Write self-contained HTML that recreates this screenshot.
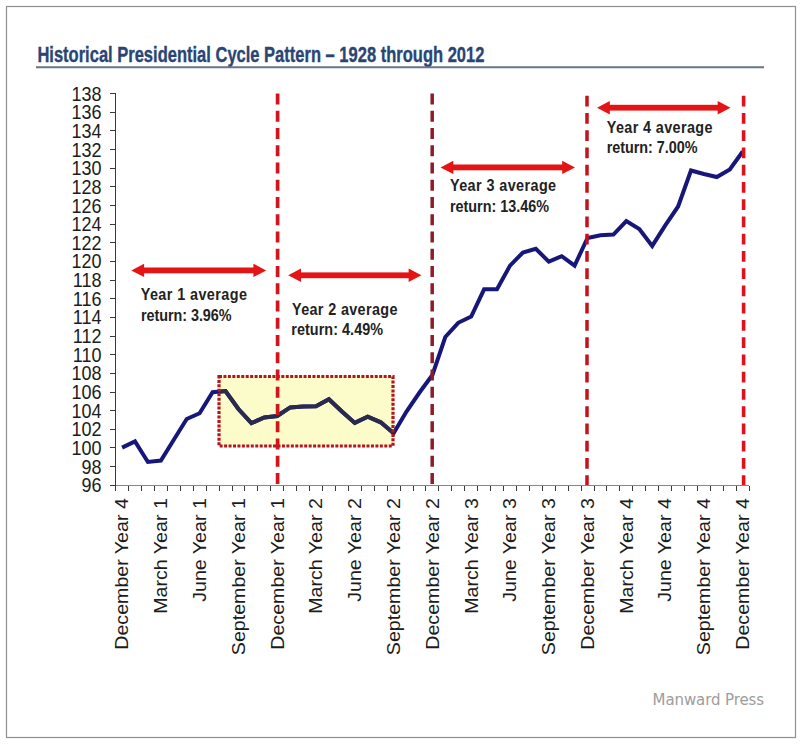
<!DOCTYPE html><html><head><meta charset="utf-8"><title>Historical Presidential Cycle Pattern</title>
<style>html,body{margin:0;padding:0;background:#fff;}svg{display:block;}text{font-family:"Liberation Sans",Arial,sans-serif;}</style></head><body>
<svg width="800" height="745" viewBox="0 0 800 745">
<rect x="0" y="0" width="800" height="745" fill="#fff"/>
<rect x="6.5" y="6.5" width="789" height="731" fill="none" stroke="#909090" stroke-width="1.2"/>
<text x="37.4" y="62.4" font-size="21.3" font-weight="bold" fill="#2a4574" stroke="#2a4574" stroke-width="0.35" textLength="447" lengthAdjust="spacingAndGlyphs">Historical Presidential Cycle Pattern – 1928 through 2012</text>
<line x1="36" y1="67.3" x2="764" y2="67.3" stroke="#647591" stroke-width="2"/>
<g stroke="#3a3a3a" stroke-width="1" shape-rendering="crispEdges">
<line x1="115.5" y1="93.6" x2="115.5" y2="491"/>
<line x1="110" y1="485.5" x2="749" y2="485.5" stroke="#858585"/>
<line x1="110" y1="93.6" x2="115.5" y2="93.6"/>
<line x1="110" y1="112.2" x2="115.5" y2="112.2"/>
<line x1="110" y1="130.9" x2="115.5" y2="130.9"/>
<line x1="110" y1="149.5" x2="115.5" y2="149.5"/>
<line x1="110" y1="168.2" x2="115.5" y2="168.2"/>
<line x1="110" y1="186.8" x2="115.5" y2="186.8"/>
<line x1="110" y1="205.5" x2="115.5" y2="205.5"/>
<line x1="110" y1="224.1" x2="115.5" y2="224.1"/>
<line x1="110" y1="242.8" x2="115.5" y2="242.8"/>
<line x1="110" y1="261.4" x2="115.5" y2="261.4"/>
<line x1="110" y1="280.1" x2="115.5" y2="280.1"/>
<line x1="110" y1="298.7" x2="115.5" y2="298.7"/>
<line x1="110" y1="317.4" x2="115.5" y2="317.4"/>
<line x1="110" y1="336.0" x2="115.5" y2="336.0"/>
<line x1="110" y1="354.7" x2="115.5" y2="354.7"/>
<line x1="110" y1="373.3" x2="115.5" y2="373.3"/>
<line x1="110" y1="392.0" x2="115.5" y2="392.0"/>
<line x1="110" y1="410.6" x2="115.5" y2="410.6"/>
<line x1="110" y1="429.3" x2="115.5" y2="429.3"/>
<line x1="110" y1="447.9" x2="115.5" y2="447.9"/>
<line x1="110" y1="466.6" x2="115.5" y2="466.6"/>
<line x1="110" y1="485.2" x2="115.5" y2="485.2"/>
<line x1="115.6" y1="485.5" x2="115.6" y2="491"/>
<line x1="128.5" y1="485.5" x2="128.5" y2="491"/>
<line x1="141.5" y1="485.5" x2="141.5" y2="491"/>
<line x1="154.4" y1="485.5" x2="154.4" y2="491"/>
<line x1="167.3" y1="485.5" x2="167.3" y2="491"/>
<line x1="180.2" y1="485.5" x2="180.2" y2="491"/>
<line x1="193.2" y1="485.5" x2="193.2" y2="491"/>
<line x1="206.1" y1="485.5" x2="206.1" y2="491"/>
<line x1="219.0" y1="485.5" x2="219.0" y2="491"/>
<line x1="232.0" y1="485.5" x2="232.0" y2="491"/>
<line x1="244.9" y1="485.5" x2="244.9" y2="491"/>
<line x1="257.8" y1="485.5" x2="257.8" y2="491"/>
<line x1="270.8" y1="485.5" x2="270.8" y2="491"/>
<line x1="283.7" y1="485.5" x2="283.7" y2="491"/>
<line x1="296.6" y1="485.5" x2="296.6" y2="491"/>
<line x1="309.5" y1="485.5" x2="309.5" y2="491"/>
<line x1="322.5" y1="485.5" x2="322.5" y2="491"/>
<line x1="335.4" y1="485.5" x2="335.4" y2="491"/>
<line x1="348.3" y1="485.5" x2="348.3" y2="491"/>
<line x1="361.3" y1="485.5" x2="361.3" y2="491"/>
<line x1="374.2" y1="485.5" x2="374.2" y2="491"/>
<line x1="387.1" y1="485.5" x2="387.1" y2="491"/>
<line x1="400.1" y1="485.5" x2="400.1" y2="491"/>
<line x1="413.0" y1="485.5" x2="413.0" y2="491"/>
<line x1="425.9" y1="485.5" x2="425.9" y2="491"/>
<line x1="438.9" y1="485.5" x2="438.9" y2="491"/>
<line x1="451.8" y1="485.5" x2="451.8" y2="491"/>
<line x1="464.7" y1="485.5" x2="464.7" y2="491"/>
<line x1="477.6" y1="485.5" x2="477.6" y2="491"/>
<line x1="490.6" y1="485.5" x2="490.6" y2="491"/>
<line x1="503.5" y1="485.5" x2="503.5" y2="491"/>
<line x1="516.4" y1="485.5" x2="516.4" y2="491"/>
<line x1="529.4" y1="485.5" x2="529.4" y2="491"/>
<line x1="542.3" y1="485.5" x2="542.3" y2="491"/>
<line x1="555.2" y1="485.5" x2="555.2" y2="491"/>
<line x1="568.1" y1="485.5" x2="568.1" y2="491"/>
<line x1="581.1" y1="485.5" x2="581.1" y2="491"/>
<line x1="594.0" y1="485.5" x2="594.0" y2="491"/>
<line x1="606.9" y1="485.5" x2="606.9" y2="491"/>
<line x1="619.9" y1="485.5" x2="619.9" y2="491"/>
<line x1="632.8" y1="485.5" x2="632.8" y2="491"/>
<line x1="645.7" y1="485.5" x2="645.7" y2="491"/>
<line x1="658.7" y1="485.5" x2="658.7" y2="491"/>
<line x1="671.6" y1="485.5" x2="671.6" y2="491"/>
<line x1="684.5" y1="485.5" x2="684.5" y2="491"/>
<line x1="697.5" y1="485.5" x2="697.5" y2="491"/>
<line x1="710.4" y1="485.5" x2="710.4" y2="491"/>
<line x1="723.3" y1="485.5" x2="723.3" y2="491"/>
<line x1="736.2" y1="485.5" x2="736.2" y2="491"/>
<line x1="749.2" y1="485.5" x2="749.2" y2="491"/>
</g>
<g font-size="18" fill="#1c1c1c" text-anchor="end">
<text transform="translate(101.5 100.6) scale(1 1.1)">138</text>
<text transform="translate(101.5 119.2) scale(1 1.1)">136</text>
<text transform="translate(101.5 137.9) scale(1 1.1)">134</text>
<text transform="translate(101.5 156.5) scale(1 1.1)">132</text>
<text transform="translate(101.5 175.2) scale(1 1.1)">130</text>
<text transform="translate(101.5 193.8) scale(1 1.1)">128</text>
<text transform="translate(101.5 212.5) scale(1 1.1)">126</text>
<text transform="translate(101.5 231.1) scale(1 1.1)">124</text>
<text transform="translate(101.5 249.8) scale(1 1.1)">122</text>
<text transform="translate(101.5 268.4) scale(1 1.1)">120</text>
<text transform="translate(101.5 287.1) scale(1 1.1)">118</text>
<text transform="translate(101.5 305.7) scale(1 1.1)">116</text>
<text transform="translate(101.5 324.4) scale(1 1.1)">114</text>
<text transform="translate(101.5 343.0) scale(1 1.1)">112</text>
<text transform="translate(101.5 361.7) scale(1 1.1)">110</text>
<text transform="translate(101.5 380.3) scale(1 1.1)">108</text>
<text transform="translate(101.5 399.0) scale(1 1.1)">106</text>
<text transform="translate(101.5 417.6) scale(1 1.1)">104</text>
<text transform="translate(101.5 436.3) scale(1 1.1)">102</text>
<text transform="translate(101.5 454.9) scale(1 1.1)">100</text>
<text transform="translate(101.5 473.6) scale(1 1.1)">98</text>
<text transform="translate(101.5 492.2) scale(1 1.1)">96</text>
</g>
<g font-size="17.6" fill="#1c1c1c" text-anchor="end">
<text transform="translate(128.4 498.2) scale(1 1.115) rotate(-90)">December Year 4</text>
<text transform="translate(167.2 498.2) scale(1 1.115) rotate(-90)">March Year 1</text>
<text transform="translate(205.9 498.2) scale(1 1.115) rotate(-90)">June Year 1</text>
<text transform="translate(244.7 498.2) scale(1 1.115) rotate(-90)">September Year 1</text>
<text transform="translate(283.5 498.2) scale(1 1.115) rotate(-90)">December Year 1</text>
<text transform="translate(322.3 498.2) scale(1 1.115) rotate(-90)">March Year 2</text>
<text transform="translate(361.1 498.2) scale(1 1.115) rotate(-90)">June Year 2</text>
<text transform="translate(399.9 498.2) scale(1 1.115) rotate(-90)">September Year 2</text>
<text transform="translate(438.7 498.2) scale(1 1.115) rotate(-90)">December Year 2</text>
<text transform="translate(477.5 498.2) scale(1 1.115) rotate(-90)">March Year 3</text>
<text transform="translate(516.3 498.2) scale(1 1.115) rotate(-90)">June Year 3</text>
<text transform="translate(555.1 498.2) scale(1 1.115) rotate(-90)">September Year 3</text>
<text transform="translate(593.8 498.2) scale(1 1.115) rotate(-90)">December Year 3</text>
<text transform="translate(632.6 498.2) scale(1 1.115) rotate(-90)">March Year 4</text>
<text transform="translate(671.4 498.2) scale(1 1.115) rotate(-90)">June Year 4</text>
<text transform="translate(710.2 498.2) scale(1 1.115) rotate(-90)">September Year 4</text>
<text transform="translate(749.0 498.2) scale(1 1.115) rotate(-90)">December Year 4</text>
</g>
<rect x="219" y="376.5" width="174" height="69.5" fill="#fcfbca"/>
<clipPath id="cb"><rect x="219" y="376.5" width="174" height="69.5"/></clipPath>
<polyline points="122.1,447.6 135.0,441.4 147.9,462.0 160.9,460.6 173.8,439.8 186.7,419.0 199.6,413.2 212.6,392.2 225.5,391.1 238.4,409.0 251.4,423.1 264.3,417.4 277.2,416.0 290.2,407.4 303.1,406.6 316.0,406.3 328.9,399.3 341.9,411.5 354.8,422.9 367.7,416.7 380.7,422.3 393.6,433.2 406.5,411.5 419.5,392.5 432.4,375.0 445.3,337.0 458.2,322.8 471.2,316.6 484.1,289.3 497.0,289.3 510.0,265.6 522.9,252.5 535.8,248.8 548.8,261.6 561.7,256.2 574.6,265.6 587.5,238.0 600.5,235.3 613.4,234.6 626.3,221.1 639.3,229.0 652.2,245.9 665.1,225.6 678.1,206.5 691.0,170.5 703.9,174.0 716.8,177.0 729.8,169.5 742.7,151.5" fill="none" stroke="#17177a" stroke-width="4" stroke-linejoin="miter" stroke-linecap="butt"/>
<polyline clip-path="url(#cb)" points="122.1,447.6 135.0,441.4 147.9,462.0 160.9,460.6 173.8,439.8 186.7,419.0 199.6,413.2 212.6,392.2 225.5,391.1 238.4,409.0 251.4,423.1 264.3,417.4 277.2,416.0 290.2,407.4 303.1,406.6 316.0,406.3 328.9,399.3 341.9,411.5 354.8,422.9 367.7,416.7 380.7,422.3 393.6,433.2 406.5,411.5 419.5,392.5 432.4,375.0 445.3,337.0 458.2,322.8 471.2,316.6 484.1,289.3 497.0,289.3 510.0,265.6 522.9,252.5 535.8,248.8 548.8,261.6 561.7,256.2 574.6,265.6 587.5,238.0 600.5,235.3 613.4,234.6 626.3,221.1 639.3,229.0 652.2,245.9 665.1,225.6 678.1,206.5 691.0,170.5 703.9,174.0 716.8,177.0 729.8,169.5 742.7,151.5" fill="none" stroke="#2a2a4c" stroke-width="4" stroke-linejoin="miter" stroke-linecap="butt"/>
<rect x="219" y="376.5" width="174" height="69.5" fill="none" stroke="#b4151a" stroke-width="3.2" stroke-dasharray="3 1.45"/>
<line x1="277.6" y1="93.6" x2="277.6" y2="485" stroke="#d2141e" stroke-width="3.7" stroke-dasharray="10.8 6.45"/>
<line x1="432.2" y1="93.6" x2="432.2" y2="485" stroke="#8e1c28" stroke-width="3.5" stroke-dasharray="10.8 6.45"/>
<line x1="587.0" y1="95.8" x2="587.0" y2="485" stroke="#c4121c" stroke-width="3.5" stroke-dasharray="10.8 6.45"/>
<line x1="743.6" y1="95.8" x2="743.6" y2="485" stroke="#e0101c" stroke-width="3.6" stroke-dasharray="10.8 6.45"/>
<rect x="143.1" y="267.5" width="111.3" height="5.8" fill="#e41414"/><polygon points="131.3,270.4 144.10000000000002,263.7 144.10000000000002,277.09999999999997" fill="#e41414"/><polygon points="266.2,270.4 253.39999999999998,263.7 253.39999999999998,277.09999999999997" fill="#e41414"/>
<rect x="300.0" y="272.4" width="109.6" height="5.8" fill="#e41414"/><polygon points="288.2,275.3 301.0,268.6 301.0,282.0" fill="#e41414"/><polygon points="421.4,275.3 408.59999999999997,268.6 408.59999999999997,282.0" fill="#e41414"/>
<rect x="452.3" y="164.5" width="110.9" height="5.8" fill="#e41414"/><polygon points="440.5,167.4 453.3,160.70000000000002 453.3,174.1" fill="#e41414"/><polygon points="575,167.4 562.2,160.70000000000002 562.2,174.1" fill="#e41414"/>
<rect x="608.8" y="104.8" width="109.9" height="5.8" fill="#e41414"/><polygon points="597,107.7 609.8,101.0 609.8,114.4" fill="#e41414"/><polygon points="730.5,107.7 717.7,101.0 717.7,114.4" fill="#e41414"/>
<g font-size="14.4" font-weight="bold" fill="#222">
<text transform="translate(140.7 300) scale(1 1.1)" letter-spacing="0.417">Year 1 average</text><text transform="translate(141.0 320.5) scale(1 1.1)" letter-spacing="-0.052">return: 3.96%</text>
<text transform="translate(292.0 315.2) scale(1 1.1)" letter-spacing="0.355">Year 2 average</text><text transform="translate(291.3 335.4) scale(1 1.1)" letter-spacing="0.048">return: 4.49%</text>
<text transform="translate(450.0 191.1) scale(1 1.1)" letter-spacing="0.409">Year 3 average</text><text transform="translate(450.0 211.6) scale(1 1.1)" letter-spacing="-0.018">return: 13.46%</text>
<text transform="translate(606.7 133) scale(1 1.1)" letter-spacing="0.386">Year 4 average</text><text transform="translate(606.7 153.1) scale(1 1.1)" letter-spacing="-0.027">return: 7.00%</text>
</g>
<text x="652.6" y="705" font-size="15" fill="#9d9d9d" style="font-family:'DejaVu Sans',sans-serif" textLength="111.5">Manward Press</text>
</svg></body></html>
